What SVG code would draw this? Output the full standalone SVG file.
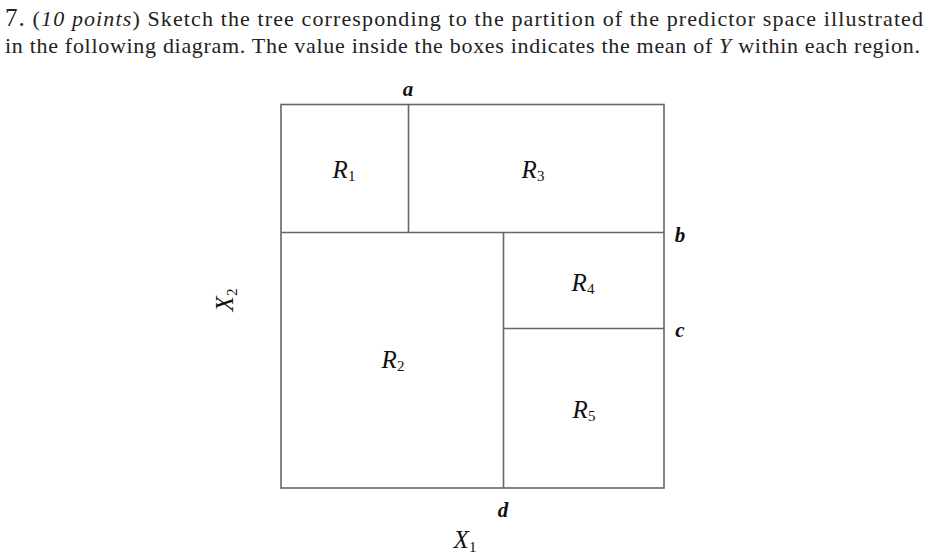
<svg xmlns="http://www.w3.org/2000/svg" width="929" height="558" viewBox="0 0 929 558">
<style>
.t{font-family:"Liberation Serif","DejaVu Serif",serif;font-size:22px;fill:#222}
.m{font-family:"Liberation Serif","DejaVu Serif",serif;font-style:italic;font-size:25px;fill:#111}
.s{font-size:15px;font-style:normal}
.ln{stroke:#666;stroke-width:1.6;fill:none}
.pt{font-family:"Liberation Serif","DejaVu Serif",serif;font-style:italic;font-weight:bold;font-size:21px;fill:#111}
</style>
<rect width="929" height="558" fill="#fff"/>
<text class="t" x="5" y="26" textLength="918" lengthAdjust="spacing"><tspan font-size="25">7.</tspan> (<tspan font-style="italic">10 points</tspan>) Sketch the tree corresponding to the partition of the predictor space illustrated</text>
<text class="t" x="5" y="53" textLength="915" lengthAdjust="spacing">in the following diagram. The value inside the boxes indicates the mean of <tspan font-style="italic">Y</tspan> within each region.</text>
<g id="connectors">
<rect class="ln" x="281" y="104.5" width="383" height="383.5"/>
<line class="ln" x1="408.5" y1="104.5" x2="408.5" y2="232.5"/>
<line class="ln" x1="281" y1="232.5" x2="664" y2="232.5"/>
<line class="ln" x1="503.5" y1="232.5" x2="503.5" y2="488"/>
<line class="ln" x1="503.5" y1="328.5" x2="664" y2="328.5"/>
</g>
<g id="R1"><text class="m" x="344" y="178" text-anchor="middle">R<tspan class="s" dy="3">1</tspan></text></g>
<g id="R3"><text class="m" x="533" y="178" text-anchor="middle">R<tspan class="s" dy="3">3</tspan></text></g>
<g id="R4"><text class="m" x="583" y="291" text-anchor="middle">R<tspan class="s" dy="3">4</tspan></text></g>
<g id="R2"><text class="m" x="393" y="368" text-anchor="middle">R<tspan class="s" dy="3">2</tspan></text></g>
<g id="R5"><text class="m" x="584" y="418" text-anchor="middle">R<tspan class="s" dy="3">5</tspan></text></g>
<g id="labels">
<text class="pt" x="408" y="96" text-anchor="middle">a</text>
<text class="pt" x="680" y="242" text-anchor="middle">b</text>
<text class="pt" x="680" y="337" text-anchor="middle">c</text>
<text class="pt" x="503" y="517" text-anchor="middle">d</text>
<text class="m" x="465" y="548" text-anchor="middle">X<tspan class="s" dy="4">1</tspan></text>
<text class="m" transform="translate(233,300) rotate(-90)" text-anchor="middle">X<tspan class="s" dy="4">2</tspan></text>
</g>
</svg>
